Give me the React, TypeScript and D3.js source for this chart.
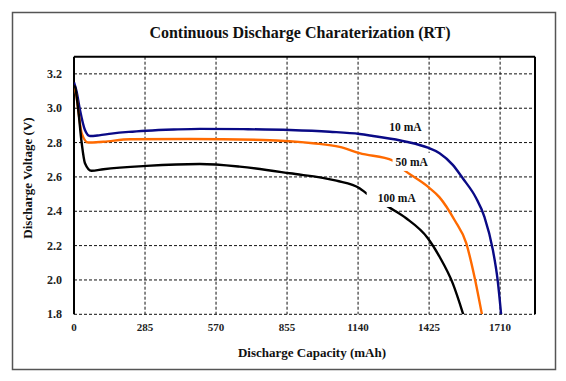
import React, { useEffect, useRef } from "react";
import * as d3 from "d3";

const xTicks = [0, 285, 570, 855, 1140, 1425, 1710];
const yTicks = [1.8, 2.0, 2.2, 2.4, 2.6, 2.8, 3.0, 3.2];

const cap10 = [0, 10, 24, 44, 64, 100, 150, 220, 291, 400, 505, 680, 866, 1026, 1146, 1200, 1333, 1420, 1467, 1520, 1560, 1614, 1647, 1681, 1700, 1714];
const volt10 = [3.15, 3.10, 2.99, 2.873, 2.838, 2.842, 2.852, 2.862, 2.869, 2.876, 2.880, 2.878, 2.873, 2.863, 2.850, 2.838, 2.805, 2.770, 2.738, 2.67, 2.592, 2.476, 2.368, 2.174, 2.0, 1.80];

const cap50 = [0, 10, 17, 31, 57, 118, 225, 465, 759, 959, 1066, 1146, 1280, 1320, 1420, 1467, 1527, 1574, 1607, 1637];
const volt50 = [3.13, 3.07, 2.99, 2.854, 2.80, 2.805, 2.819, 2.821, 2.815, 2.796, 2.775, 2.738, 2.695, 2.645, 2.543, 2.481, 2.349, 2.214, 2.019, 1.80];

const cap100 = [0, 4, 17, 31, 44, 70, 118, 291, 505, 665, 866, 1053, 1146, 1173, 1264, 1333, 1420, 1467, 1520, 1562];
const volt100 = [3.13, 3.125, 2.99, 2.796, 2.68, 2.636, 2.645, 2.664, 2.675, 2.66, 2.621, 2.578, 2.534, 2.505, 2.423, 2.359, 2.243, 2.135, 1.98, 1.80];

const seriesNames = ["10 mA", "50 mA", "100 mA"];
const seriesColors = ["#0a0a86", "#ff6a00", "#000000"];
const labelCaps = [1330, 1355, 1295];
const labelVolts = [2.869, 2.664, 2.454];

export default function App() {
  const ref = useRef<SVGSVGElement | null>(null);

  useEffect(() => {
    const svg = d3.select(ref.current);
    svg.selectAll("*").remove();
    const W = 566, H = 381;
    const left = 74, right = 535, top = 56.7, bottom = 314.3;
    const x = d3.scaleLinear().domain([0, 1850]).range([left, right]);
    const y = d3.scaleLinear().domain([1.8, 3.3]).range([bottom, top]);
    const font = "'Liberation Serif', 'Times New Roman', serif";

    svg.append("rect").attr("width", W).attr("height", H).attr("fill", "#fff");
    svg.append("rect").attr("x", 12.5).attr("y", 12.5).attr("width", 543).attr("height", 357)
      .attr("fill", "#fff").attr("stroke", "#555").attr("stroke-width", 1.5);

    svg.append("text").attr("x", 300).attr("y", 38).attr("text-anchor", "middle")
      .attr("font-family", font).attr("font-weight", "bold").attr("font-size", 16)
      .attr("fill", "#111").text("Continuous Discharge Charaterization (RT)");

    const g = svg.append("g");
    yTicks.forEach((t) => {
      g.append("line").attr("x1", left).attr("x2", right).attr("y1", y(t)).attr("y2", y(t))
        .attr("stroke", "#111").attr("stroke-width", 1).attr("stroke-dasharray", "3,2");
    });
    xTicks.filter((t) => t > 0).forEach((t) => {
      g.append("line").attr("x1", x(t)).attr("x2", x(t)).attr("y1", top).attr("y2", bottom)
        .attr("stroke", "#111").attr("stroke-width", 1).attr("stroke-dasharray", "3,2");
    });
    g.append("line").attr("x1", left).attr("x2", right).attr("y1", top).attr("y2", top).attr("stroke", "#000").attr("stroke-width", 2);
    g.append("line").attr("x1", left).attr("x2", left).attr("y1", top).attr("y2", bottom).attr("stroke", "#000").attr("stroke-width", 2);
    g.append("line").attr("x1", right).attr("x2", right).attr("y1", top).attr("y2", bottom).attr("stroke", "#000").attr("stroke-width", 2);

    yTicks.forEach((t) => {
      g.append("text").attr("x", 62).attr("y", y(t) + 4).attr("text-anchor", "end")
        .attr("font-family", font).attr("font-weight", "bold").attr("font-size", 12)
        .attr("fill", "#222").text(t.toFixed(1));
    });
    xTicks.forEach((t) => {
      g.append("text").attr("x", x(t)).attr("y", 331).attr("text-anchor", "middle")
        .attr("font-family", font).attr("font-weight", "bold").attr("font-size", 11)
        .attr("fill", "#222").text(String(t));
    });

    svg.append("text").attr("x", 312).attr("y", 357).attr("text-anchor", "middle")
      .attr("font-family", font).attr("font-weight", "bold").attr("font-size", 13)
      .attr("fill", "#111").text("Discharge Capacity (mAh)");
    svg.append("text").attr("transform", "translate(32,178) rotate(-90)").attr("text-anchor", "middle")
      .attr("font-family", font).attr("font-weight", "bold").attr("font-size", 13)
      .attr("fill", "#111").text("Discharge Voltage (V)");

    svg.append("clipPath").attr("id", "clip").append("rect")
      .attr("x", left).attr("y", top).attr("width", right - left).attr("height", bottom - top);
    const line = d3.line<[number, number]>().x((d) => x(d[0])).y((d) => y(d[1])).curve(d3.curveMonotoneX);
    const all = [
      d3.zip(cap10, volt10) as [number, number][],
      d3.zip(cap50, volt50) as [number, number][],
      d3.zip(cap100, volt100) as [number, number][],
    ];
    const cg = svg.append("g").attr("clip-path", "url(#clip)");
    all.forEach((pts, i) => {
      cg.append("path").attr("d", line(pts) as string).attr("fill", "none")
        .attr("stroke", seriesColors[i]).attr("stroke-width", 2.4).attr("stroke-linejoin", "round");
    });

    const pads = [[2, 1], [3, 3], [11, 3]];
    seriesNames.forEach((name, i) => {
      const lg = svg.append("g");
      const bg = lg.append("rect").attr("fill", "#fff");
      const t = lg.append("text").attr("x", x(labelCaps[i])).attr("y", y(labelVolts[i]))
        .attr("text-anchor", "middle").attr("font-family", font).attr("font-weight", "bold")
        .attr("font-size", 11.5).attr("fill", "#111").text(name);
      const bb = (t.node() as SVGTextElement).getBBox();
      bg.attr("x", bb.x - pads[i][0]).attr("y", bb.y - pads[i][1])
        .attr("width", bb.width + 2 * pads[i][0]).attr("height", bb.height + 2 * pads[i][1]);
    });
  }, []);

  return (
    <svg ref={ref} width={566} height={381} style={{ position: "absolute", left: 0, top: 0 }} />
  );
}
